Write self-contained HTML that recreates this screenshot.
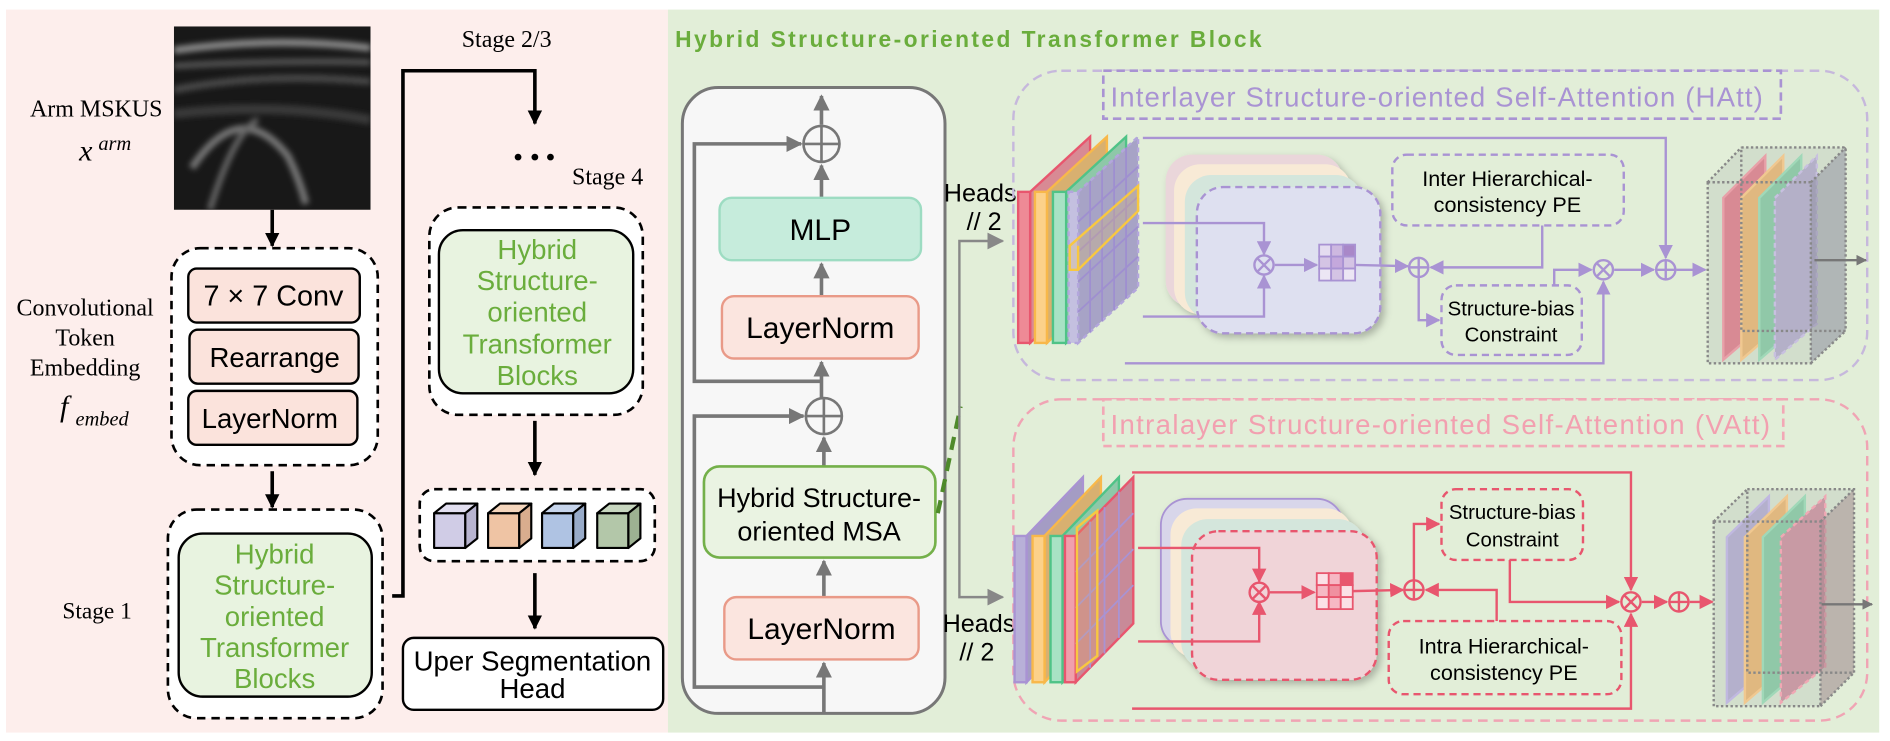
<!DOCTYPE html>
<html><head><meta charset="utf-8"><style>
html,body{margin:0;padding:0;background:#fff;}
svg{display:block;}
text{font-family:"Liberation Sans",sans-serif;}
.serif{font-family:"Liberation Serif",serif;}
</style></head><body>
<svg width="1890" height="741" viewBox="0 0 1576 618" preserveAspectRatio="none" xmlns="http://www.w3.org/2000/svg">
<defs>
<marker id="ak" viewBox="0 0 10 10" refX="9" refY="5" markerWidth="4" markerHeight="4" orient="auto-start-reverse"><path d="M0,0L10,5L0,10z" fill="#000"/></marker>
<marker id="ag" viewBox="0 0 10 10" refX="9" refY="5" markerWidth="4.5" markerHeight="4.5" orient="auto-start-reverse"><path d="M0,0L10,5L0,10z" fill="#777"/></marker>
<marker id="ag2" viewBox="0 0 10 10" refX="9" refY="5" markerWidth="7" markerHeight="7" orient="auto-start-reverse"><path d="M0,0L10,5L0,10z" fill="#888"/></marker>
<marker id="ap" viewBox="0 0 10 10" refX="9" refY="5" markerWidth="6" markerHeight="6" orient="auto-start-reverse"><path d="M0,0L10,5L0,10z" fill="#a993d3"/></marker>
<marker id="ar" viewBox="0 0 10 10" refX="9" refY="5" markerWidth="6" markerHeight="6" orient="auto-start-reverse"><path d="M0,0L10,5L0,10z" fill="#e8566e"/></marker>
<filter id="sh" x="-10%" y="-10%" width="130%" height="130%"><feDropShadow dx="3" dy="3" stdDeviation="3" flood-color="#000" flood-opacity="0.25"/></filter>
<filter id="bl"><feGaussianBlur stdDeviation="2.5"/></filter>
<clipPath id="usclip"><rect x="145" y="22" width="164" height="153"/></clipPath>
</defs>

<rect x="5" y="8" width="552" height="603" fill="#fdeeec"/>
<rect x="557" y="8" width="1010" height="603" fill="#e2eed8"/>

<g clip-path="url(#usclip)">
<rect x="145" y="22" width="164" height="153" fill="#181818"/>
<g filter="url(#bl)" fill="none">
<path d="M145,42 Q230,30 309,40" stroke="#8a8a8a" stroke-width="6"/>
<path d="M145,55 Q230,50 309,52" stroke="#555" stroke-width="5"/>
<path d="M145,75 Q220,60 309,68" stroke="#4a4a4a" stroke-width="6"/>
<path d="M160,140 Q200,80 240,130 Q250,150 255,170" stroke="#777" stroke-width="6"/>
<path d="M175,175 Q195,110 215,100" stroke="#666" stroke-width="5"/>
<path d="M145,95 Q230,85 309,100" stroke="#3a3a3a" stroke-width="8"/>
</g>
</g>

<text class="serif" x="25" y="97" font-size="20">Arm MSKUS</text>
<text class="serif" x="66" y="134" font-size="25" font-style="italic">x</text>
<text class="serif" x="82" y="125" font-size="17" font-style="italic">arm</text>
<text class="serif" x="71" y="263" font-size="20" text-anchor="middle">Convolutional</text>
<text class="serif" x="71" y="288" font-size="20" text-anchor="middle">Token</text>
<text class="serif" x="71" y="313" font-size="20" text-anchor="middle">Embedding</text>
<text class="serif" x="50" y="347" font-size="25" font-style="italic">f</text>
<text class="serif" x="63" y="355" font-size="17" font-style="italic">embed</text>
<text class="serif" x="52" y="516" font-size="19.5">Stage 1</text>

<line x1="227" y1="175" x2="227" y2="205" stroke="#000" stroke-width="3" marker-end="url(#ak)"/>
<rect x="143" y="207" width="172" height="181" rx="24" fill="#fff" stroke="#000" stroke-width="2.2" stroke-dasharray="7,5"/>
<rect x="157" y="224" width="143" height="45" rx="7" fill="#fbe3dc" stroke="#000" stroke-width="2"/>
<text x="228" y="255" font-size="24" text-anchor="middle">7 × 7 Conv</text>
<rect x="158" y="275" width="141" height="45" rx="7" fill="#fbe3dc" stroke="#000" stroke-width="2"/>
<text x="229" y="306" font-size="23" text-anchor="middle">Rearrange</text>
<rect x="157" y="326" width="141" height="45" rx="7" fill="#fbe3dc" stroke="#000" stroke-width="2"/>
<text x="225" y="357" font-size="23" text-anchor="middle">LayerNorm</text>

<line x1="227" y1="393" x2="227" y2="423" stroke="#000" stroke-width="3" marker-end="url(#ak)"/>
<rect x="140" y="425" width="179" height="174" rx="24" fill="#fff" stroke="#000" stroke-width="2.2" stroke-dasharray="7,5"/>
<rect x="149" y="445" width="161" height="136" rx="20" fill="#e8f3e0" stroke="#000" stroke-width="2"/>
<g font-size="23" fill="#6aad3c" text-anchor="middle">
<text x="229" y="470">Hybrid</text><text x="229" y="496">Structure-</text><text x="229" y="522">oriented</text><text x="229" y="548">Transformer</text><text x="229" y="574">Blocks</text>
</g>

<polyline points="327,497 336,497 336,59 446,59 446,103" fill="none" stroke="#000" stroke-width="3" marker-end="url(#ak)"/>
<text class="serif" x="385" y="39" font-size="20">Stage 2/3</text>
<circle cx="432" cy="131" r="2.8"/><circle cx="446" cy="131" r="2.8"/><circle cx="459" cy="131" r="2.8"/>
<text class="serif" x="477" y="154" font-size="20">Stage 4</text>

<rect x="358" y="173" width="178" height="173" rx="24" fill="#fff" stroke="#000" stroke-width="2.2" stroke-dasharray="7,5"/>
<rect x="366" y="192" width="162" height="136" rx="20" fill="#e8f3e0" stroke="#000" stroke-width="2"/>
<g font-size="23" fill="#6aad3c" text-anchor="middle">
<text x="448" y="216">Hybrid</text><text x="448" y="242">Structure-</text><text x="448" y="268">oriented</text><text x="448" y="295">Transformer</text><text x="448" y="321">Blocks</text>
</g>
<line x1="446" y1="351" x2="446" y2="396" stroke="#000" stroke-width="3" marker-end="url(#ak)"/>
<rect x="350" y="408" width="196" height="60" rx="12" fill="#fff" stroke="#000" stroke-width="2.2" stroke-dasharray="7,5"/>
<g stroke="#000" stroke-width="1.8" stroke-linejoin="round">
<g><rect x="362" y="428" width="26" height="29" fill="#d0cce6"/><polygon points="362,428 372,420 398,420 388,428" fill="#e2dff0"/><polygon points="388,428 398,420 398,449 388,457" fill="#b8b4d0"/></g>
<g><rect x="407" y="428" width="26" height="29" fill="#efc4a4"/><polygon points="407,428 417,420 443,420 433,428" fill="#f5d6bd"/><polygon points="433,428 443,420 443,449 433,457" fill="#d9ad8e"/></g>
<g><rect x="452" y="428" width="26" height="29" fill="#afc3e3"/><polygon points="452,428 462,420 488,420 478,428" fill="#c7d5ec"/><polygon points="478,428 488,420 488,449 478,457" fill="#98abc9"/></g>
<g><rect x="498" y="428" width="26" height="29" fill="#b3c7a9"/><polygon points="498,428 508,420 534,420 524,428" fill="#c8d7c0"/><polygon points="524,428 534,420 534,449 524,457" fill="#9db192"/></g>
</g>
<line x1="446" y1="478" x2="446" y2="524" stroke="#000" stroke-width="3" marker-end="url(#ak)"/>
<rect x="336" y="532" width="217" height="60" rx="9" fill="#fff" stroke="#000" stroke-width="2"/>
<text x="444" y="559" font-size="23" text-anchor="middle">Uper Segmentation</text>
<text x="444" y="582" font-size="23" text-anchor="middle">Head</text>

<text x="563" y="39" font-size="19" font-weight="bold" fill="#6aad3c" textLength="489">Hybrid Structure-oriented Transformer Block</text>

<rect x="569" y="73" width="219" height="522" rx="30" fill="#f7f7f7" stroke="#777" stroke-width="2.5"/>
<g stroke="#777" stroke-width="3" fill="none">
<line x1="685" y1="104" x2="685" y2="80" marker-end="url(#ag)"/>
<circle cx="685" cy="120" r="15" stroke-width="2.2"/>
<line x1="685" y1="105" x2="685" y2="135" stroke-width="2.2"/><line x1="670" y1="120" x2="700" y2="120" stroke-width="2.2"/>
<line x1="685" y1="165" x2="685" y2="138" marker-end="url(#ag)"/>
<polyline points="685,318 579,318 579,120 668,120" marker-end="url(#ag)"/>
<line x1="685" y1="247" x2="685" y2="220" marker-end="url(#ag)"/>
<line x1="685" y1="332" x2="685" y2="302" marker-end="url(#ag)"/>
<circle cx="687" cy="347" r="15" stroke-width="2.2"/>
<line x1="687" y1="332" x2="687" y2="362" stroke-width="2.2"/><line x1="672" y1="347" x2="702" y2="347" stroke-width="2.2"/>
<polyline points="687,573 579,573 579,347 670,347" marker-end="url(#ag)"/>
<line x1="687" y1="389" x2="687" y2="365" marker-end="url(#ag)"/>
<line x1="687" y1="498" x2="687" y2="468" marker-end="url(#ag)"/>
<line x1="687" y1="595" x2="687" y2="553" marker-end="url(#ag)"/>
</g>
<rect x="600" y="165" width="168" height="52" rx="10" fill="#c6ecdc" stroke="#9ddcc2" stroke-width="2"/>
<text x="684" y="200" font-size="25" text-anchor="middle">MLP</text>
<rect x="602" y="247" width="164" height="52" rx="10" fill="#fbe5df" stroke="#e99a88" stroke-width="2"/>
<text x="684" y="282" font-size="25" text-anchor="middle">LayerNorm</text>
<rect x="587" y="389" width="193" height="76" rx="13" fill="#eaf3e2" stroke="#74b04a" stroke-width="2.2"/>
<text x="683" y="423" font-size="22.5" text-anchor="middle">Hybrid Structure-</text>
<text x="683" y="451" font-size="22.5" text-anchor="middle">oriented MSA</text>
<rect x="604" y="498" width="162" height="52" rx="10" fill="#fbe5df" stroke="#e99a88" stroke-width="2"/>
<text x="685" y="533" font-size="25" text-anchor="middle">LayerNorm</text>

<line x1="782" y1="428" x2="801" y2="339" stroke="#4e8a2a" stroke-width="3.5" stroke-dasharray="11,7"/>
<polyline points="836,201 800,201 800,498 836,498" fill="none" stroke="#888" stroke-width="2" marker-start="url(#ag2)" marker-end="url(#ag2)"/>
<text x="787" y="168" font-size="21">Heads</text><text x="806" y="192" font-size="21">// 2</text>
<text x="786" y="527" font-size="21">Heads</text><text x="800" y="551" font-size="21">// 2</text>

<rect x="845" y="59" width="712" height="258" rx="40" fill="none" stroke="#c6b8dc" stroke-width="2" stroke-dasharray="8,5"/>
<rect x="920" y="59" width="565" height="40" fill="#e2eed8" stroke="#a993d3" stroke-width="2.2" stroke-dasharray="7,4"/>
<text x="926" y="89" font-size="23" fill="#a993d3" textLength="544">Interlayer Structure-oriented Self-Attention (HAtt)</text>

<rect x="845" y="333" width="712" height="268" rx="40" fill="none" stroke="#f0a4b4" stroke-width="2" stroke-dasharray="8,5"/>
<rect x="920" y="333" width="567" height="39" fill="#e2eed8" stroke="#f2a8b6" stroke-width="2.2" stroke-dasharray="7,4"/>
<text x="926" y="362" font-size="23" fill="#f2a0b0" textLength="550">Intralayer Structure-oriented Self-Attention  (VAtt)</text>

<g stroke-width="2">
<polygon points="859,160 909,114 909,240 859,286" fill="#d88a94" stroke="#e8566e"/><rect x="849" y="160" width="10" height="126" fill="#ee8a96" stroke="#e8566e"/>
<polygon points="873,160 923,114 923,240 873,286" fill="#d8b070" stroke="#f8b84a"/><rect x="863" y="160" width="10" height="126" fill="#fcd18a" stroke="#f8b84a"/>
<polygon points="889,160 939,114 939,240 889,286" fill="#8ec8a8" stroke="#4fc387"/><rect x="878" y="160" width="11" height="126" fill="#a8e2c4" stroke="#4fc387"/>
<polygon points="899,160 949,114 949,240 899,286" fill="#a7a3c6" stroke="#b3a6dc" stroke-dasharray="4,3"/><rect x="891" y="160" width="8" height="126" fill="#c4c0e0" stroke="#b3a6dc" stroke-dasharray="4,3"/>
</g>
<g stroke="#9f8fd0" stroke-width="1.5">
<line x1="909" y1="151" x2="909" y2="277"/><line x1="919" y1="142" x2="919" y2="268"/><line x1="929" y1="133" x2="929" y2="259"/><line x1="939" y1="123" x2="939" y2="249"/>
<line x1="899" y1="185" x2="949" y2="139"/><line x1="899" y1="210" x2="949" y2="164"/><line x1="899" y1="235" x2="949" y2="189"/><line x1="899" y1="260" x2="949" y2="214"/>
</g>
<polygon points="892,205 949,155 949,176 899,225 892,225" fill="rgba(248,200,64,0.2)" stroke="#f8c840" stroke-width="2"/>
<line x1="899" y1="205" x2="899" y2="225" stroke="#f8c840" stroke-width="2"/>

<g filter="url(#sh)">
<rect x="972" y="129" width="148" height="127" rx="22" fill="#ead6da"/>
<rect x="979" y="137" width="148" height="125" rx="22" fill="#f8ead6"/>
<rect x="988" y="146" width="148" height="120" rx="22" fill="#d4e6dc"/>
<rect x="998" y="156" width="153" height="122" rx="22" fill="#dee0f0" stroke="#a993d3" stroke-width="2" stroke-dasharray="6,4"/>
</g>
<g stroke="#a993d3" stroke-width="2" fill="none">
<polyline points="953,186 1054,186 1054,212" marker-end="url(#ap)"/>
<polyline points="953,264 1054,264 1054,230" marker-end="url(#ap)"/>
<circle cx="1054" cy="221" r="8"/><line x1="1048" y1="215" x2="1060" y2="227"/><line x1="1060" y1="215" x2="1048" y2="227"/>
<line x1="1063" y1="221" x2="1098" y2="221" marker-end="url(#ap)"/>
<line x1="1130" y1="221" x2="1174" y2="222" marker-end="url(#ap)"/>
<circle cx="1183" cy="223" r="8"/><line x1="1175" y1="223" x2="1191" y2="223"/><line x1="1183" y1="215" x2="1183" y2="231"/>
<polyline points="1286,188 1286,223 1193,223" marker-end="url(#ap)"/>
<polyline points="1183,231 1183,267 1200,267" marker-end="url(#ap)"/>
<polyline points="1296,238 1296,225 1327,225" marker-end="url(#ap)"/>
<polyline points="938,303 1337,303 1337,235" marker-end="url(#ap)"/>
<circle cx="1337" cy="225" r="8"/><line x1="1331" y1="219" x2="1343" y2="231"/><line x1="1343" y1="219" x2="1331" y2="231"/>
<polyline points="953,115 1389,115 1389,215" marker-end="url(#ap)"/>
<line x1="1346" y1="225" x2="1379" y2="225" marker-end="url(#ap)"/>
<circle cx="1389" cy="225" r="8"/><line x1="1381" y1="225" x2="1397" y2="225"/><line x1="1389" y1="217" x2="1389" y2="233"/>
<line x1="1398" y1="225" x2="1422" y2="225" marker-end="url(#ap)"/>
</g>
<g stroke="#a993d3" stroke-width="1.5">
<rect x="1100" y="204" width="10" height="10" fill="#e4dcf0"/><rect x="1110" y="204" width="10" height="10" fill="#cdb8e0"/><rect x="1120" y="204" width="10" height="10" fill="#a988c8"/>
<rect x="1100" y="214" width="10" height="10" fill="#d4c4e4"/><rect x="1110" y="214" width="10" height="10" fill="#c4a8dc"/><rect x="1120" y="214" width="10" height="10" fill="#d4c4e4"/>
<rect x="1100" y="224" width="10" height="10" fill="#ece6f4"/><rect x="1110" y="224" width="10" height="10" fill="#d4c4e4"/><rect x="1120" y="224" width="10" height="10" fill="#ece6f4"/>
</g>
<rect x="1161" y="129" width="193" height="59" rx="12" fill="#e2eed8" stroke="#a993d3" stroke-width="2" stroke-dasharray="6,4"/>
<text x="1257" y="155" font-size="18" text-anchor="middle">Inter Hierarchical-</text>
<text x="1257" y="177" font-size="18" text-anchor="middle">consistency PE</text>
<rect x="1202" y="238" width="117" height="58" rx="12" fill="#e2eed8" stroke="#a993d3" stroke-width="2" stroke-dasharray="6,4"/>
<text x="1260" y="263" font-size="17" text-anchor="middle">Structure-bias</text>
<text x="1260" y="285" font-size="17" text-anchor="middle">Constraint</text>

<polygon points="1424,152 1452,123 1539,123 1539,276 1510,303 1424,303" fill="#c8d4c4" opacity="0.6"/>
<g stroke-width="2">
<polygon points="1437,165 1472,130 1472,270 1437,300" fill="#d88a94" stroke="#e8a0a8"/>
<polygon points="1452,165 1487,130 1487,270 1452,300" fill="#e0b880" stroke="#f0c890"/>
<polygon points="1467,165 1502,130 1502,270 1467,300" fill="#90c8a8" stroke="#a0d8b8"/>
<polygon points="1480,165 1515,130 1515,270 1480,300" fill="#b4b0c8" stroke="#c8c0e0" stroke-dasharray="4,3"/>
</g>
<polygon points="1510,152 1539,123 1539,276 1510,303" fill="#8e8ea0" opacity="0.5"/>
<g fill="none" stroke="#888" stroke-width="2" stroke-dasharray="2,2">
<rect x="1424" y="152" width="86" height="151"/><rect x="1452" y="123" width="87" height="153"/>
<line x1="1424" y1="152" x2="1452" y2="123"/><line x1="1510" y1="152" x2="1539" y2="123"/><line x1="1510" y1="303" x2="1539" y2="276"/>
</g>
<line x1="1513" y1="217" x2="1556" y2="217" stroke="#777" stroke-width="2" marker-end="url(#ag)"/>

<g stroke-width="2">
<polygon points="856,447 903,398 903,520 856,569" fill="#a49cc4" stroke="#a993d3"/><rect x="846" y="447" width="10" height="122" fill="#b8b0d8" stroke="#a993d3"/>
<polygon points="871,447 918,398 918,520 871,569" fill="#d8b070" stroke="#f8b84a"/><rect x="861" y="447" width="10" height="122" fill="#fcd18a" stroke="#f8b84a"/>
<polygon points="886,447 933,398 933,520 886,569" fill="#8ec8a8" stroke="#4fc387"/><rect x="876" y="447" width="10" height="122" fill="#a8e2c4" stroke="#4fc387"/>
<polygon points="897,447 945,398 945,520 897,569" fill="#c88a98" stroke="#e8566e"/><rect x="888" y="447" width="9" height="122" fill="#f0a0ac" stroke="#e8566e"/>
</g>
<g stroke="#a993d3" stroke-width="1.5">
<line x1="909" y1="435" x2="909" y2="557"/><line x1="921" y1="423" x2="921" y2="545"/><line x1="933" y1="410" x2="933" y2="532"/>
<line x1="897" y1="477" x2="945" y2="428"/><line x1="897" y1="507" x2="945" y2="458"/><line x1="897" y1="537" x2="945" y2="488"/>
</g>
<polygon points="898,440 915,426 915,547 898,560" fill="rgba(248,200,64,0.15)" stroke="#f8c840" stroke-width="2"/>

<g filter="url(#sh)">
<rect x="968" y="416" width="152" height="124" rx="22" fill="#d8d6ea" stroke="#a993d3" stroke-width="1.5"/>
<rect x="976" y="424" width="152" height="125" rx="22" fill="#f8ead6"/>
<rect x="985" y="433" width="153" height="125" rx="22" fill="#d4e6dc"/>
<rect x="994" y="443" width="154" height="124" rx="22" fill="#f0d4d8" stroke="#e8566e" stroke-width="2" stroke-dasharray="6,4"/>
</g>
<g stroke="#e8566e" stroke-width="2" fill="none">
<polyline points="944,394 1360,394 1360,492" marker-end="url(#ar)"/>
<polyline points="949,457 1050,457 1050,485" marker-end="url(#ar)"/>
<polyline points="949,535 1050,535 1050,502" marker-end="url(#ar)"/>
<circle cx="1050" cy="494" r="8"/><line x1="1044" y1="488" x2="1056" y2="500"/><line x1="1056" y1="488" x2="1044" y2="500"/>
<line x1="1059" y1="494" x2="1096" y2="494" marker-end="url(#ar)"/>
<line x1="1128" y1="493" x2="1170" y2="492" marker-end="url(#ar)"/>
<circle cx="1179" cy="492" r="8"/><line x1="1171" y1="492" x2="1187" y2="492"/><line x1="1179" y1="484" x2="1179" y2="500"/>
<polyline points="1179,484 1179,437 1200,437" marker-end="url(#ar)"/>
<polyline points="1248,518 1248,492 1189,492" marker-end="url(#ar)"/>
<polyline points="1259,467 1259,502 1350,502" marker-end="url(#ar)"/>
<polyline points="944,591 1360,591 1360,512" marker-end="url(#ar)"/>
<circle cx="1360" cy="502" r="8"/><line x1="1354" y1="496" x2="1366" y2="508"/><line x1="1366" y1="496" x2="1354" y2="508"/>
<line x1="1369" y1="502" x2="1390" y2="502" marker-end="url(#ar)"/>
<circle cx="1400" cy="502" r="8"/><line x1="1392" y1="502" x2="1408" y2="502"/><line x1="1400" y1="494" x2="1400" y2="510"/>
<line x1="1409" y1="502" x2="1428" y2="502" marker-end="url(#ar)"/>
</g>
<g stroke="#e8566e" stroke-width="1.5">
<rect x="1098" y="478" width="10" height="10" fill="#fbe0e6"/><rect x="1108" y="478" width="10" height="10" fill="#f6b8c4"/><rect x="1118" y="478" width="10" height="10" fill="#e8566e"/>
<rect x="1098" y="488" width="10" height="10" fill="#f6b8c4"/><rect x="1108" y="488" width="10" height="10" fill="#f090a0"/><rect x="1118" y="488" width="10" height="10" fill="#fbe0e6"/>
<rect x="1098" y="498" width="10" height="10" fill="#fbe0e6"/><rect x="1108" y="498" width="10" height="10" fill="#f6b8c4"/><rect x="1118" y="498" width="10" height="10" fill="#fbe0e6"/>
</g>
<rect x="1202" y="408" width="118" height="59" rx="12" fill="#e2eed8" stroke="#e8566e" stroke-width="2" stroke-dasharray="6,4"/>
<text x="1261" y="433" font-size="17" text-anchor="middle">Structure-bias</text>
<text x="1261" y="456" font-size="17" text-anchor="middle">Constraint</text>
<rect x="1158" y="518" width="194" height="61" rx="12" fill="#e2eed8" stroke="#e8566e" stroke-width="2" stroke-dasharray="6,4"/>
<text x="1254" y="545" font-size="18" text-anchor="middle">Intra Hierarchical-</text>
<text x="1254" y="567" font-size="18" text-anchor="middle">consistency PE</text>

<polygon points="1429,435 1457,408 1546,408 1546,561 1518,589 1429,589" fill="#c8d4c4" opacity="0.6"/>
<g stroke-width="2">
<polygon points="1440,448 1475,414 1475,556 1440,586" fill="#b4b0cc" stroke="#c0b8e0"/>
<polygon points="1455,448 1490,414 1490,556 1455,586" fill="#e0b880" stroke="#f0c890"/>
<polygon points="1470,448 1505,414 1505,556 1470,586" fill="#90c8a8" stroke="#a0d8b8"/>
<polygon points="1485,448 1522,414 1522,556 1485,586" fill="#c89aa4" stroke="#f0a8b4" stroke-dasharray="4,3"/>
</g>
<polygon points="1518,435 1546,408 1546,561 1518,589" fill="#a08088" opacity="0.45"/>
<g fill="none" stroke="#888" stroke-width="2" stroke-dasharray="2,2">
<rect x="1429" y="435" width="89" height="154"/><rect x="1457" y="408" width="89" height="153"/>
<line x1="1429" y1="435" x2="1457" y2="408"/><line x1="1518" y1="435" x2="1546" y2="408"/><line x1="1518" y1="589" x2="1546" y2="561"/>
</g>
<line x1="1519" y1="504" x2="1561" y2="504" stroke="#777" stroke-width="2" marker-end="url(#ag)"/>
</svg>
</body></html>
